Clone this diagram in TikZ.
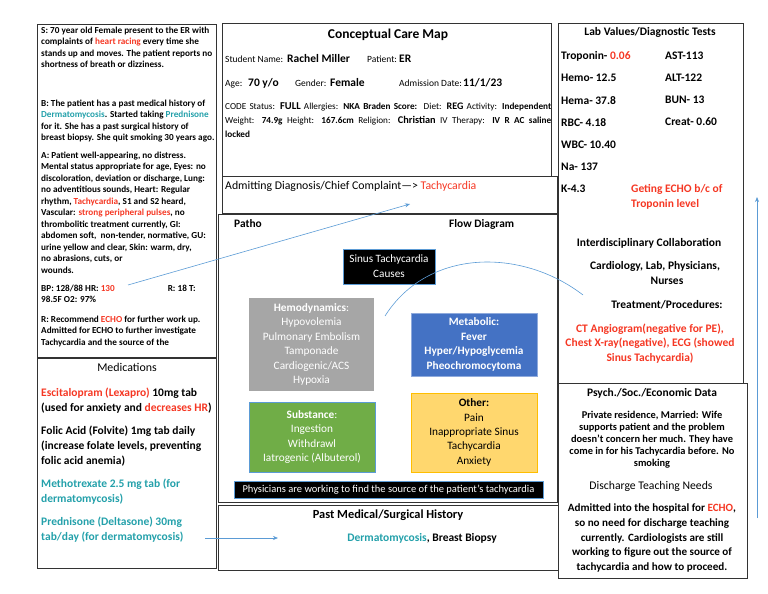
\documentclass[tikz,border=0pt]{standalone}
\usepackage{fontspec}
\setmainfont{Carlito}
\usetikzlibrary{arrows.meta,positioning}
\definecolor{alertred}{RGB}{245,55,35}
\definecolor{medteal}{RGB}{35,160,170}
\definecolor{linkblue}{RGB}{91,155,213}
\definecolor{hemogray}{RGB}{166,166,166}
\definecolor{metablue}{RGB}{68,114,196}
\definecolor{subgreen}{RGB}{112,173,71}
\definecolor{othfill}{RGB}{255,215,110}
\definecolor{othline}{RGB}{255,190,0}
\newcommand{\hot}[1]{\textcolor{alertred}{#1}}
\newcommand{\tl}[1]{\textcolor{medteal}{#1}}
\newcommand{\lbl}[1]{{\mdseries #1}}
\newcommand{\val}[1]{{\bfseries #1}}

\begin{document}
\begin{tikzpicture}[
    x=1pt, y=-1pt,
    panel/.style={draw=black!80, line width=0.9pt, anchor=north west, inner sep=0pt},
    txt/.style={anchor=north west, inner sep=0pt, align=left},
    ctxt/.style={anchor=north, inner sep=0pt, align=center},
    lab/.style={anchor=base west, inner sep=0pt, font=\fontsize{9.5}{11}\selectfont},
    big/.style={anchor=base west, inner sep=0pt, font=\fontsize{11.5}{13}\selectfont\bfseries},
    cause/.style={inner sep=0pt, align=center, text=white, font=\fontsize{11.3}{14.4}\selectfont},
    arr/.style={draw=linkblue, line width=0.6pt, -{Stealth[length=5pt,width=4pt]}}
  ]
    \useasboundingbox (0,0) rectangle (768,594);

    % Panels
    \node[panel, minimum width=179pt, minimum height=333pt] (sbar) at (37,24) {};
    \node[panel, minimum width=179pt, minimum height=210pt] (meds) at (37,358) {};
    \node[panel, minimum width=329pt, minimum height=153pt] (care) at (222,23) {};
    \node[panel, minimum width=335pt, minimum height=37pt] (admit) at (222,176) {};
    \node[panel, minimum width=339pt, minimum height=288pt] (flow) at (218,214) {};
    \node[panel, minimum width=340pt, minimum height=65pt] (pmh) at (218,505) {};
    \node[panel, minimum width=185pt, minimum height=360pt] (labs) at (558,23) {};
    \node[panel, minimum width=189pt, minimum height=195pt] (psych) at (558,383) {};

    % SBAR text
    \begin{scope}[every node/.style={txt, font=\fontsize{9.2}{11.5}\selectfont\bfseries}]
    \node (sit) at (41,26.5) {S: 70 year old Female present to the ER with\\
      complaints of \hot{heart racing} every time she\\
      stands up and moves. The patient reports no\\
      shortness of breath or dizziness.};
    \node (bkg) at (41,99.5) {B: The patient has a past medical history of\\
      \tl{Dermatomycosis}. Started taking \tl{Prednisone}\\
      for it. She has a past surgical history of\\
      breast biopsy. She quit smoking 30 years ago.};
    \node (asm) at (41,151.5) {A: Patient well-appearing, no distress.\\
      Mental status appropriate for age, Eyes: no\\
      discoloration, deviation or discharge, Lung:\\
      no adventitious sounds, Heart: Regular\\
      rhythm, \hot{Tachycardia}, S1 and S2 heard,\\
      Vascular: \hot{strong peripheral pulses}, no\\
      thrombolitic treatment currently, GI:\\
      abdomen soft,\ \ non-tender, normative, GU:\\
      urine yellow and clear, Skin: warm, dry,\\
      no abrasions, cuts, or\\
      wounds.};
    \node (vitals) at (41,284.5) {BP: 128/88 HR: \hot{130}\hspace{53pt}R: 18 T:\\
      98.5F O2: 97\%};
    \node (rec) at (41,315.5) {R: Recommend \hot{ECHO} for further work up.\\
      Admitted for ECHO to further investigate\\
      Tachycardia and the source of the};
    \end{scope}
    \coordinate (hrend) at (128,285);

    % Medications
    \node[ctxt, font=\fontsize{11.9}{13}\selectfont] (medtitle) at (127,363.5) {Medications};
    \node[txt, font=\fontsize{11.5}{15}\selectfont\bfseries] (medlist) at (41,387.5) {\hot{Escitalopram (Lexapro)} 10mg tab\\
      (used for anxiety and \hot{decreases HR})\\[8pt]
      Folic Acid (Folvite) 1mg tab daily\\
      (increase folate levels, preventing\\
      folic acid anemia)\\[8pt]
      \tl{Methotrexate 2.5 mg tab (for}\\
      \tl{dermatomycosis)}\\[8pt]
      \tl{Prednisone (Deltasone) 30mg}\\
      \tl{tab/day (for dermatomycosis)}};
    \coordinate (predstart) at (205,538);
    \coordinate (predend) at (278,538);

    % Care map header
    \node[ctxt, font=\fontsize{13.5}{15}\selectfont\bfseries] (title) at (388,28.5) {Conceptual Care Map};
    \node[lab] (studlbl) at (225,63) {Student Name:};
    \node[big] (stud) at (287,63) {Rachel Miller};
    \node[lab] (patlbl) at (367,63) {Patient:};
    \node[big] (pat) at (399,63) {ER};
    \node[lab] (agelbl) at (225,86) {Age:};
    \node[big] (age) at (248,86) {70 y/o};
    \node[lab] (genlbl) at (295,86) {Gender:};
    \node[big] (gen) at (330,86) {Female};
    \node[lab] (admlbl) at (399,86) {Admission Date:};
    \node[big] (adm) at (463,86) {11/1/23};
    \node[anchor=base west, inner sep=0pt, font=\fontsize{9.2}{10}\selectfont] (code) at (225,109.5)
      {\makebox[326pt][s]{\lbl{CODE Status:} {\fontsize{10.5}{11}\selectfont\val{FULL}} \lbl{Allergies:} \val{NKA Braden Score:}\ \ \lbl{Diet:} {\fontsize{10}{11}\selectfont\val{REG}} \lbl{Activity:} \val{Independent}}};
    \node[anchor=base west, inner sep=0pt, font=\fontsize{9.2}{10}\selectfont] (wt) at (225,123.5)
      {\makebox[326pt][s]{\lbl{Weight:} \val{74.9g} \lbl{Height:} \val{167.6cm} \lbl{Religion:} {\fontsize{10.3}{10}\selectfont\val{Christian}} \lbl{IV Therapy:} \val{IV R AC saline}}};
    \node[anchor=base west, inner sep=0pt, font=\fontsize{9.2}{10}\selectfont\bfseries] (lck) at (225,137.5) {locked};
    \node[anchor=base west, inner sep=0pt, font=\fontsize{11.8}{13}\selectfont] (cc) at (225,189)
      {Admitting Diagnosis/Chief Complaint---> \hot{Tachycardia}};
    \coordinate (ccend) at (410,204);

    % Patho flow diagram
    \node[txt, font=\fontsize{11.4}{12}\selectfont\bfseries] (patho) at (234,219.5) {Patho};
    \node[txt, font=\fontsize{11.4}{12}\selectfont\bfseries] (fdiag) at (449,219.5) {Flow Diagram};
    \node[cause, fill=black, draw=linkblue, line width=0.6pt, minimum width=92pt, minimum height=35pt, font=\fontsize{11.2}{15}\selectfont] (causes) at (389,266.5)
      {Sinus Tachycardia\\Causes};
    \node[cause, fill=hemogray, minimum width=125pt, minimum height=93pt] (hemo) at (311.5,344.5)
      {\textbf{Hemodynamics}:\\Hypovolemia\\Pulmonary Embolism\\Tamponade\\Cardiogenic/ACS\\Hypoxia};
    \node[cause, fill=metablue, draw=metablue!60, line width=0.6pt, minimum width=126pt, minimum height=63pt] (meta) at (474,344.5)
      {\textbf{Metabolic:}\\\textbf{Fever}\\\textbf{Hyper/Hypoglycemia}\\\textbf{Pheochromocytoma}};
    \node[cause, fill=subgreen, draw=linkblue, line width=0.6pt, minimum width=126pt, minimum height=70pt] (subst) at (312,437)
      {\textbf{Substance}:\\Ingestion\\Withdrawl\\Iatrogenic (Albuterol)};
    \node[cause, text=black, fill=othfill, draw=othline, line width=0.6pt, minimum width=126pt, minimum height=79pt] (other) at (474,432.5)
      {\textbf{Other:}\\Pain\\Inappropriate Sinus\\Tachycardia\\Anxiety};
    \node[cause, fill=black, draw=linkblue, line width=0.6pt, minimum width=309pt, minimum height=17pt, font=\fontsize{10.5}{12}\selectfont] (banner) at (388.5,489.5)
      {Physicians are working to find the source of the patient’s tachycardia};
    \coordinate (arcstart) at (385,316);
    \coordinate (arcend) at (583,295);

    % Past history
    \node[ctxt, font=\fontsize{12.4}{13}\selectfont\bfseries] (pmhtitle) at (388,510) {Past Medical/Surgical History};
    \node[ctxt, font=\fontsize{11.5}{13}\selectfont\bfseries] (pmhtext) at (422,533.5) {\tl{Dermatomycosis}, Breast Biopsy};

    % Labs
    \node[ctxt, font=\fontsize{11.5}{13}\selectfont\bfseries] (labtitle) at (650,27.5) {Lab Values/Diagnostic Tests};
    \node[txt, font=\fontsize{11.5}{22.2}\selectfont\bfseries] (labcol1) at (561,51.5)
      {Troponin- \hot{0.06}\\Hemo- 12.5\\Hema- 37.8\\RBC- 4.18\\WBC- 10.40\\Na- 137\\K-4.3};
    \node[txt, font=\fontsize{11.5}{22.2}\selectfont\bfseries] (labcol2) at (665,51.5)
      {AST-113\\ALT-122\\BUN- 13\\Creat- 0.60};
    \node[txt, font=\fontsize{11.5}{15}\selectfont\bfseries, text=alertred] (echo) at (631,184)
      {Geting ECHO b/c of\\Troponin level};
    \node[ctxt, font=\fontsize{11.5}{13}\selectfont\bfseries] (collab) at (649,238.5) {Interdisciplinary Collaboration};
    \node[ctxt, font=\fontsize{11.5}{15}\selectfont\bfseries] (team) at (655,261.5) {Cardiology, Lab, Physicians,\\\hspace*{24pt}Nurses};
    \node[ctxt, font=\fontsize{11.5}{13}\selectfont\bfseries] (treat) at (667,300.5) {Treatment/Procedures:};
    \node[ctxt, font=\fontsize{11.5}{14.5}\selectfont\bfseries, text=alertred] (proc) at (650,323.5)
      {CT Angiogram(negative for PE),\\Chest X-ray(negative), ECG (showed\\Sinus Tachycardia)};

    % Psych / discharge
    \node[ctxt, font=\fontsize{11.5}{13}\selectfont\bfseries] (psytitle) at (652,388) {Psych./Soc./Economic Data};
    \node[ctxt, font=\fontsize{10.4}{12}\selectfont\bfseries] (psytext) at (652,410.5)
      {Private residence, Married: Wife\\supports patient and the problem\\doesn’t concern her much. They have\\come in for his Tachycardia before. No\\smoking};
    \node[ctxt, font=\fontsize{11.7}{13}\selectfont] (dctitle) at (651,481) {Discharge Teaching Needs};
    \node[ctxt, font=\fontsize{11.1}{14.6}\selectfont\bfseries] (dctext) at (652,504)
      {Admitted into the hospital for \hot{ECHO},\\so no need for discharge teaching\\currently. Cardiologists are still\\working to figure out the source of\\tachycardia and how to proceed.};
    \coordinate (vstart) at (757,518);
    \coordinate (vend) at (757,197);

    % Connectors
    \draw[arr] (hrend) -- (ccend);
    \draw[draw=linkblue, line width=0.6pt] (arcstart) .. controls (428,248) and (522,248) .. (arcend);
    \draw[arr] (predstart) -- (predend);
    \draw[arr] (vstart) -- (vend);
  \end{tikzpicture}
\end{document}
